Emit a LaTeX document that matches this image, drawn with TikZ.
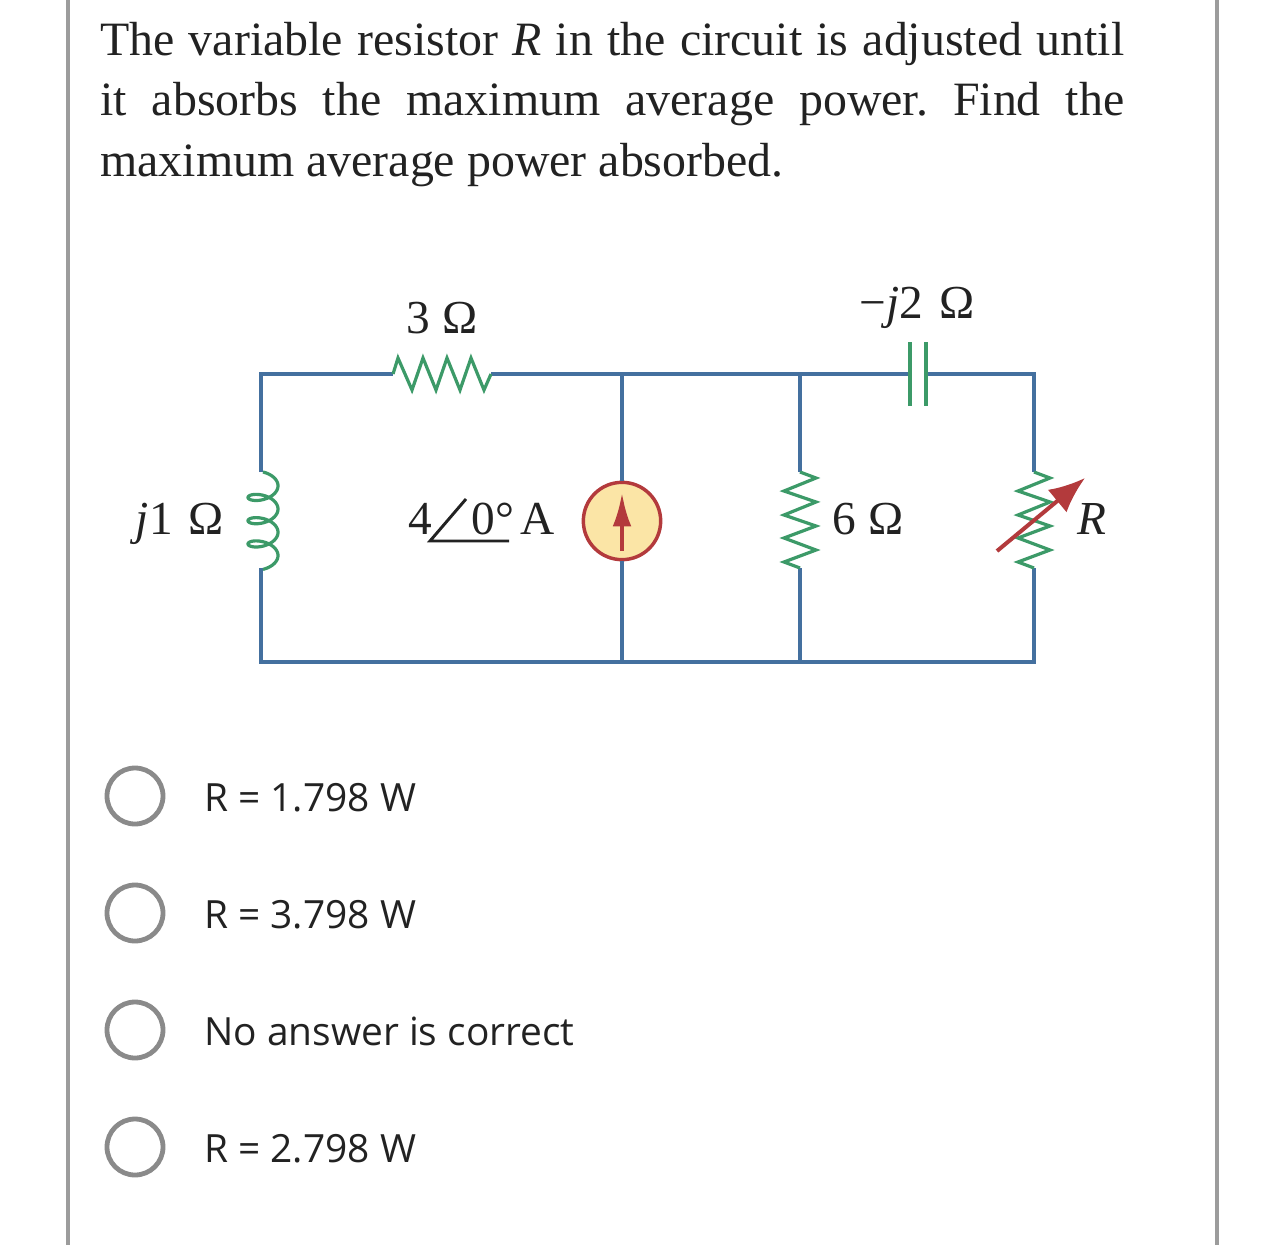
\documentclass[tikz,border=0pt]{standalone}
\usepackage{fontspec}
\setmainfont{Liberation Serif}
\newfontfamily\optfont{Open Sans}
\usetikzlibrary{arrows.meta}
\definecolor{wireblue}{HTML}{44709F}
\definecolor{partgreen}{HTML}{3C9A68}
\definecolor{srcred}{HTML}{B33A3C}
\definecolor{srcfill}{HTML}{FBE5A6}
\definecolor{framegray}{HTML}{9C9C9C}
\definecolor{radiogray}{HTML}{8A8A8A}
\definecolor{inktext}{HTML}{222222}
\newcommand{\ohmgap}{\kern 0.26em}
\frenchspacing
\tikzset{
  wire/.style={draw=wireblue,line width=2.5pt,line join=miter},
  part/.style={draw=partgreen,line width=2.4pt,line join=miter},
  redline/.style={draw=srcred,line width=3pt},
  frameline/.style={draw=framegray,line width=2.6pt},
  radio/.style={circle,draw=radiogray,line width=3.6pt,fill=white,minimum size=42pt,inner sep=0pt},
  lbl/.style={font=\fontsize{35.5}{40}\selectfont,text=inktext,inner sep=0pt},
  opt/.style={font=\optfont\fontsize{29.15}{34}\selectfont,text=inktext,inner sep=0pt,anchor=base west},
  body/.style={font=\fontsize{35.9}{45}\selectfont\frenchspacing,text=inktext,inner sep=0pt,anchor=base west,align=left}
}
\begin{document}
\begin{tikzpicture}[x=0.75pt,y=-0.75pt]
\useasboundingbox (0,0) rectangle (1284,1245);
\fill[white] (0,0) rectangle (1284,1245);
% frame
\coordinate (fl1) at (68,0); \coordinate (fl2) at (68,1245);
\coordinate (fr1) at (1217,0); \coordinate (fr2) at (1217,1245);
\draw[frameline] (fl1) -- (fl2);
\draw[frameline] (fr1) -- (fr2);
% question
\node[body] (q1) at (100,56) {\makebox[768pt][s]{The variable resistor \textit{R} in the circuit is adjusted until}};
\node[body] (q2) at (100,116) {\makebox[768pt][s]{it absorbs the maximum average power. Find the}};
\node[body] (q3) at (100,176) {maximum average power absorbed.};
% junction coordinates
\coordinate (tl) at (261,374); \coordinate (bl) at (261,662);
\coordinate (tm) at (622,374); \coordinate (bm) at (622,662);
\coordinate (ts) at (800,374); \coordinate (bs) at (800,662);
\coordinate (tr) at (1034,374); \coordinate (br) at (1034,662);
\coordinate (r3a) at (393,374); \coordinate (r3b) at (491,374);
\coordinate (c1) at (910,374); \coordinate (c2) at (926,374);
\coordinate (la) at (261,472); \coordinate (lb) at (261,568);
\coordinate (r6a) at (800,472); \coordinate (r6b) at (800,568);
\coordinate (rva) at (1034,472); \coordinate (rvb) at (1034,568);
\node[circle,draw=srcred,line width=2.6pt,fill=srcfill,minimum size=58pt,inner sep=0pt] (src) at (622,521) {};
% wires
\draw[wire] (la) -- (tl) -- (r3a);
\draw[wire] (r3b) -- (c1);
\draw[wire] (c2) -- (tr) -- (rva);
\draw[wire] (lb) -- (bl) -- (br) -- (rvb);
\draw[wire] (tm) -- (src.north);
\draw[wire] (src.south) -- (bm);
\draw[wire] (ts) -- (r6a);
\draw[wire] (r6b) -- (bs);
% source arrow
\coordinate (sa1) at (622,551); \coordinate (sa2) at (622,493);
\draw[redline,-{Latex[length=25pt,width=14pt]}] (sa1) -- (sa2);
% 3 ohm
\draw[part] (r3a) -- ++(5,-16) -- ++(14,32) -- ++(11,-32) -- ++(13,32) -- ++(11,-32) -- ++(13,32) -- ++(11,-32) -- ++(13,32) -- (r3b);
% capacitor
\draw[part,line width=3pt] (910,342) -- (910,406);
\draw[part,line width=3pt] (926,342) -- (926,406);
% 6 ohm and R
\foreach \nm in {r6a,rva}{
  \draw[part] (\nm) -- ++(16,6) -- ++(-32,13) -- ++(32,11) -- ++(-32,13) -- ++(32,11) -- ++(-32,12) -- ++(32,12) -- ++(-32,12) -- ++(16,6);
}
% inductor
\draw[part,smooth] plot[domain=0:1260,samples=220,variable=\t] ({263+15*sin(\t)},{480+3.7*\t*3.14159/180-8*cos(\t)});
% variable arrow
\coordinate (va1) at (997,551); \coordinate (va2) at (1085,478);
\draw[redline,-{Latex[length=27pt,width=22pt]}] (va1) -- (va2);
% labels
\node[lbl] (l3) at (442,318) {3\ohmgap Ω};
\node[lbl] (lc) at (917,308) {−\textit{j}2\kern 0.34em Ω};
\node[lbl,anchor=base] (lj) at (180,534) {\textit{j}1\kern 0.34em Ω};
\node[lbl,anchor=base] (l6) at (868,534) {6\ohmgap Ω};
\node[lbl,anchor=base] (lr) at (1092,534) {\textit{R}};
\node[lbl,anchor=base west] (ls) at (408,534) {4\kern30pt0°\kern 0.12em A};
\coordinate (an1) at (466,499); \coordinate (an2) at (430,541); \coordinate (an3) at (509,541);
\draw[inktext,line width=2.2pt] (an1) -- (an2) -- (an3);
% options
\node[radio] (o1) at (135,796) {};
\node[radio] (o2) at (135,913) {};
\node[radio] (o3) at (135,1030) {};
\node[radio] (o4) at (135,1147) {};
\node[opt] (t1) at (204,811) {R = 1.798 W};
\node[opt] (t2) at (204,928) {R = 3.798 W};
\node[opt] (t3) at (204,1045) {No answer is correct};
\node[opt] (t4) at (204,1162) {R = 2.798 W};
\end{tikzpicture}
\end{document}
